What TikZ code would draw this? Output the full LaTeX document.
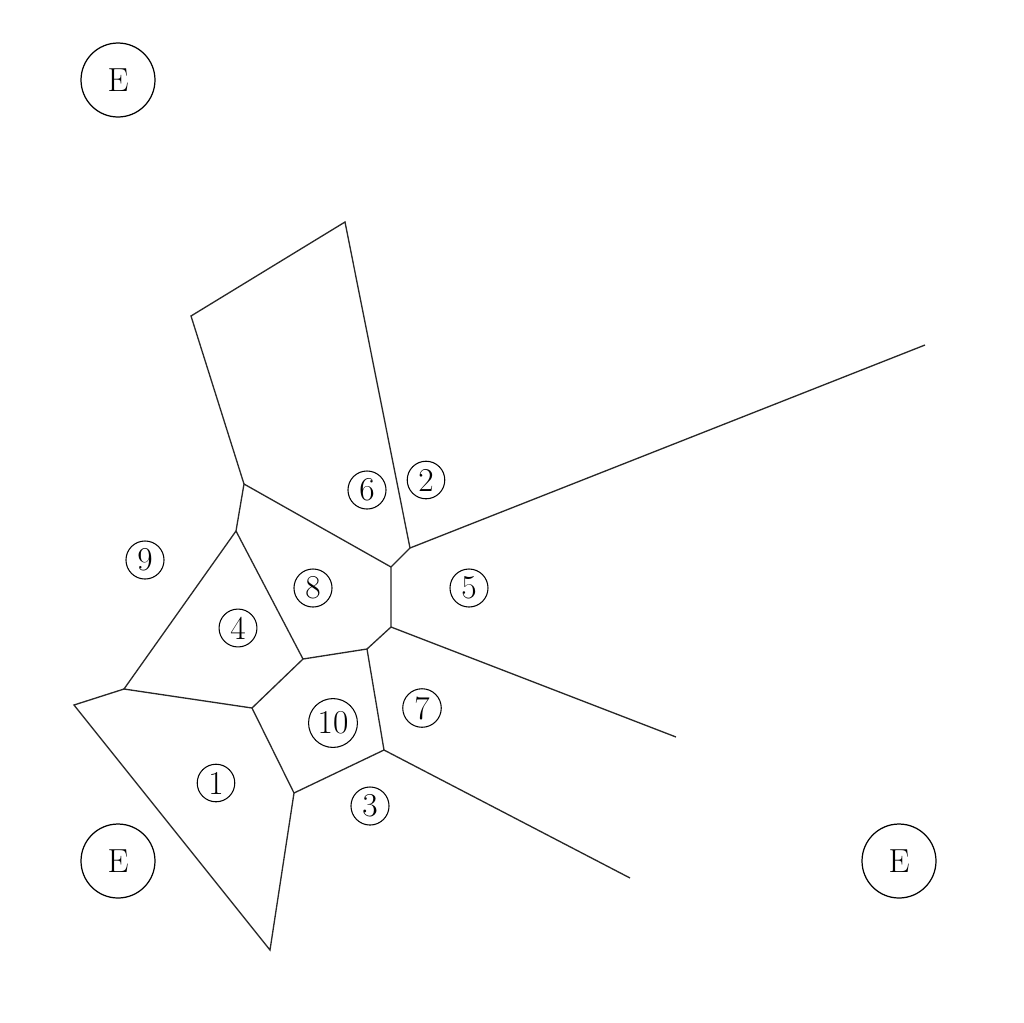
\documentclass[tikz,border=0pt]{standalone}
\usepackage{tikz}

\begin{document}
\begin{tikzpicture}[x=0.02cm,y=-0.02cm,
    cell/.style={circle,draw,line width=0.6pt,inner sep=2.2pt,font=\fontsize{19}{23}\selectfont},
    extnode/.style={circle,draw,line width=0.7pt,minimum size=1.48cm,inner sep=0pt,font=\fontsize{19}{23}\selectfont}]
                \useasboundingbox (0,0) rectangle (1024,1022);
                \coordinate (a) at (191,316);
                \coordinate (b) at (345,222);
                \coordinate (v1) at (244,484);
                \coordinate (v2) at (236,531);
                \coordinate (v3) at (391,567);
                \coordinate (v4) at (410,548);
                \coordinate (v5) at (391,627);
                \coordinate (v6) at (367,649);
                \coordinate (v7) at (303,659);
                \coordinate (v8) at (252,708);
                \coordinate (v9) at (124,689);
                \coordinate (v10) at (74,705);
                \coordinate (v11) at (294,793);
                \coordinate (v12) at (384,750);
                \coordinate (v13) at (270,950);
                \coordinate (r1) at (925,345);
                \coordinate (r2) at (676,737);
                \coordinate (r3) at (630,878);
                \draw [line width=0.75pt,black!85] (v1) -- (a) -- (b) -- (v4) -- (r1);
                \draw [line width=0.75pt,black!85] (v4) -- (v3) -- (v1) -- (v2) -- (v7) -- (v6) -- (v5) -- (v3);
                \draw [line width=0.75pt,black!85] (v5) -- (r2);
                \draw [line width=0.75pt,black!85] (v2) -- (v9) -- (v8) -- (v7);
                \draw [line width=0.75pt,black!85] (v9) -- (v10) -- (v13) -- (v11) -- (v8);
                \draw [line width=0.75pt,black!85] (v11) -- (v12) -- (v6);
                \draw [line width=0.75pt,black!85] (v12) -- (r3);
                \node [cell] (c1) at (216,783) {1};
                \node [cell] (c2) at (426,480) {2};
                \node [cell] (c3) at (370,806) {3};
                \node [cell] (c4) at (238,628) {4};
                \node [cell] (c5) at (469,588) {5};
                \node [cell] (c6) at (367,490) {6};
                \node [cell] (c7) at (422,708) {7};
                \node [cell] (c8) at (313,588) {8};
                \node [cell] (c9) at (145,560) {9};
                \node [cell] (c10) at (333,723) {10};
                \node [extnode] (e1) at (118,80) {E};
                \node [extnode] (e2) at (118,861) {E};
                \node [extnode] (e3) at (899,861) {E};
            \end{tikzpicture}
\end{document}
